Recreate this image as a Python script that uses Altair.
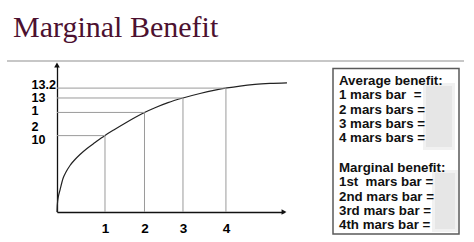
import altair as alt
import pandas as pd

# ---- data ----
title_text = "Marginal Benefit"

unit_labels = ["1", "2", "3", "4"]
unit_pos = [1.0, 1.823, 2.625, 3.52]         # x position of each quantity
unit_level = [10.05, 13.1, 15.0, 16.3]      # total benefit at that quantity

y_label_text = ["13.2", "13", "1", "2", "10"]
y_label_pos = [16.8, 15.0, 13.3, 11.3, 9.6]

curve_x = [0, 0.006, 0.027, 0.0625, 0.125, 0.1875, 0.271, 0.375, 0.479, 0.625,
           0.792, 1.0, 1.208, 1.417, 1.625, 1.833, 2.042, 2.313, 2.625, 2.979,
           3.292, 3.542, 3.813, 4.125, 4.438, 4.792]
curve_y = [0, 0.92, 1.97, 2.89, 4.41, 5.26, 6.12, 6.91, 7.57, 8.36,
           9.14, 10.07, 10.89, 11.68, 12.43, 13.12, 13.72, 14.39, 15.0, 15.59,
           16.03, 16.32, 16.57, 16.78, 16.91, 17.0]

avg_lines = ["Average benefit:", "1 mars bar\u00a0 =", "2 mars bars =",
             "3 mars bars =", "4 mars bars ="]
marg_lines = ["Marginal benefit:", "1st\u00a0 mars bar =", "2nd mars bar =",
              "3rd mars bar =", "4th mars bar ="]

X_MAX = 4.73
Y_MAX = 19.34

W, H = 227, 147
FONT = "Liberation Sans"

curve_df = pd.DataFrame({"q": curve_x, "b": curve_y})
ref_df = pd.DataFrame({"q": unit_pos, "b": unit_level,
                       "zero": [0.0] * len(unit_pos)})
one = pd.DataFrame({"a": [0]})

xscale = alt.Scale(domain=[0, X_MAX], nice=False, zero=True)
yscale = alt.Scale(domain=[0, Y_MAX], nice=False, zero=True)

x_expr = " : ".join(f"datum.value == {p} ? '{t}'" for p, t in zip(unit_pos, unit_labels)) + " : ''"
y_expr = " : ".join(f"datum.value == {p} ? '{t}'" for p, t in zip(y_label_pos, y_label_text)) + " : ''"

axis_common = dict(title=None, ticks=False, grid=False, domainColor="#111",
                   domainWidth=1.3, labelFont=FONT, labelFontWeight="bold",
                   labelColor="#000", labelOverlap=False,
                   labelBound=False, labelFlush=False)
x_axis = alt.Axis(values=unit_pos, labelExpr=x_expr, labelPadding=9,
                  labelBaseline="top", labelFontSize=13.5, **axis_common)
y_axis = alt.Axis(values=y_label_pos, labelExpr=y_expr, labelAlign="left",
                  labelPadding=26, labelFontSize=12.6, **axis_common)


def X(field):
    return alt.X(field, type="quantitative", scale=xscale, axis=x_axis)


def Y(field):
    return alt.Y(field, type="quantitative", scale=yscale, axis=y_axis)


curve = alt.Chart(curve_df).mark_line(
    interpolate="monotone", color="#222", strokeWidth=1.2
).encode(x=X("q"), y=Y("b"))

hrules = alt.Chart(ref_df).mark_rule(color="#9a9a9a", strokeWidth=1).encode(
    x=X("zero"), x2="q:Q", y=Y("b"),
)
vrules = alt.Chart(ref_df).mark_rule(color="#9a9a9a", strokeWidth=1).encode(
    x=X("q"), y=Y("zero"), y2="b:Q",
)

arrow_up = alt.Chart(pd.DataFrame({"q": [0.0], "b": [Y_MAX]})).mark_point(
    shape="triangle-up", filled=True, size=32, color="#111", opacity=1
).encode(x=X("q"), y=Y("b"))
arrow_right = alt.Chart(pd.DataFrame({"q": [X_MAX], "b": [0.0]})).mark_point(
    shape="triangle-right", filled=True, size=32, color="#111", opacity=1
).encode(x=X("q"), y=Y("b"))

title = alt.Chart(one).mark_text(
    text=title_text, font="Liberation Serif", fontSize=30, color="#4c1130",
    align="left", baseline="alphabetic"
).encode(x=alt.value(-44), y=alt.value(-28.5))

separator = alt.Chart(one).mark_rule(color="#b4b4b4", strokeWidth=1.5).encode(
    x=alt.value(-50), x2=alt.value(407), y=alt.value(-4)
)

box = alt.Chart(one).mark_rect(fillOpacity=0, stroke="#5a5a5a", strokeWidth=1.5).encode(
    x=alt.value(276), x2=alt.value(402), y=alt.value(3.5), y2=alt.value(169)
)

blur1o = alt.Chart(one).mark_rect(color="#f1f1f1").encode(
    x=alt.value(366), x2=alt.value(398), y=alt.value(18), y2=alt.value(85))
blur1 = alt.Chart(one).mark_rect(color="#e6e6e6").encode(
    x=alt.value(369), x2=alt.value(395), y=alt.value(21), y2=alt.value(82))
blur2o = alt.Chart(one).mark_rect(color="#f1f1f1").encode(
    x=alt.value(375), x2=alt.value(401), y=alt.value(105), y2=alt.value(167))
blur2 = alt.Chart(one).mark_rect(color="#e6e6e6").encode(
    x=alt.value(378), x2=alt.value(398), y=alt.value(108), y2=alt.value(164))

text_style = dict(align="left", baseline="top", lineHeight=14.3, font=FONT,
                  fontSize=13.3, fontWeight="bold", color="#111")
avg_text = alt.Chart(one).mark_text(text=avg_lines, **text_style).encode(
    x=alt.value(282), y=alt.value(9))
marg_text = alt.Chart(one).mark_text(text=marg_lines, **text_style).encode(
    x=alt.value(282), y=alt.value(96))

chart = alt.layer(
    curve, hrules, vrules, arrow_up, arrow_right,
    separator, blur1o, blur1, blur2o, blur2, box, avg_text, marg_text, title,
).properties(
    width=W, height=H,
    padding={"left": 57, "top": 65, "right": 190, "bottom": 30},
    autosize=alt.AutoSizeParams(type="none"),
    background="white",
).configure_view(stroke=None)

chart.save("out.html", embed_options={"renderer": "svg", "actions": False})
